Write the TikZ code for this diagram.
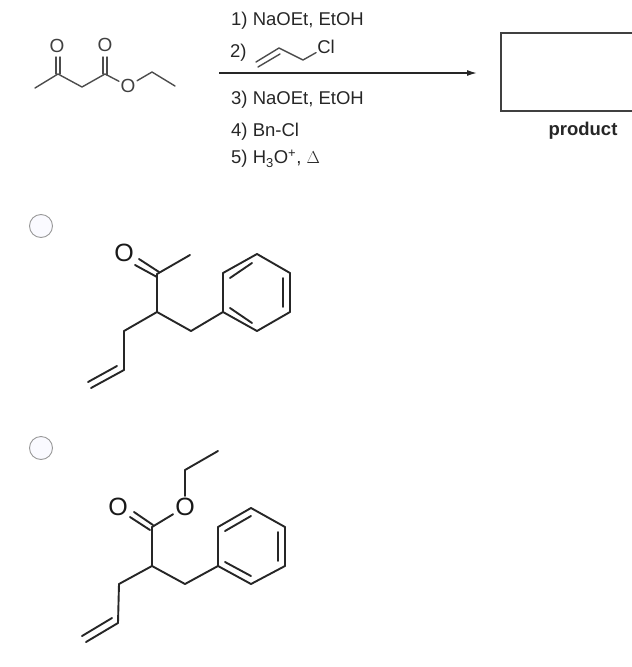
\documentclass[tikz,border=0pt]{standalone}
\usepackage{fontspec}
\usetikzlibrary{arrows.meta}
\setmainfont{Liberation Sans}
\tikzset{
  bond/.style={line width=1.9pt,line cap=round,line join=round,color=black!85},
  thinbond/.style={line width=1.4pt,line cap=round,line join=round,color=black!70},
  atom/.style={inner sep=2pt,font=\fontsize{25}{25}\selectfont,color=black!90},
  smallatom/.style={inner sep=1.5pt,font=\fontsize{19}{19}\selectfont,color=black!75},
  reagent/.style={anchor=west,inner sep=0pt,font=\fontsize{18.5}{20}\selectfont,color=black!85},
  radio/.style={circle,draw=black!40,fill=blue!2,line width=0.9pt,minimum size=23pt,inner sep=0pt},
}
\begin{document}
\begin{tikzpicture}[x=1pt,y=-1pt]
\useasboundingbox (0,0) rectangle (632,667);
% starting material
\coordinate (s0) at (35,88);
\coordinate (s1) at (58,74);
\node[smallatom] (s2) at (57,46) {O};
\coordinate (s3) at (82,87);
\coordinate (s4) at (105,74);
\node[smallatom] (s5) at (105,45) {O};
\node[smallatom] (s6) at (128,86) {O};
\coordinate (s7) at (152,72);
\coordinate (s8) at (175,86);
\coordinate (s9) at (56,57);
\coordinate (s10) at (56,74);
\coordinate (s11) at (60,57);
\coordinate (s12) at (60,74);
\coordinate (s13) at (103,57);
\coordinate (s14) at (103,74);
\coordinate (s15) at (107,57);
\coordinate (s16) at (107,75);
\draw[thinbond] (s0) -- (s1) -- (s3) -- (s4) -- (s6);
\draw[thinbond] (s6) -- (s7) -- (s8);
\draw[thinbond] (s9) -- (s10);
\draw[thinbond] (s11) -- (s12);
\draw[thinbond] (s13) -- (s14);
\draw[thinbond] (s15) -- (s16);
% reagents
\node[reagent] (r1) at (231,21) {1) NaOEt, EtOH};
\node[reagent] (r2) at (230,53) {2)};
\coordinate (c0) at (256,62);
\coordinate (c1) at (279,48);
\coordinate (c2) at (303,60);
\node[inner sep=1pt,font=\fontsize{18.5}{20}\selectfont,color=black!85] (c3) at (326,47) {Cl};
\coordinate (c4) at (258,67);
\coordinate (c5) at (280,54);
\draw[thinbond] (c0) -- (c1) -- (c2) -- (c3);
\draw[thinbond] (c4) -- (c5);
\node[reagent] (r3) at (231,100) {3) NaOEt, EtOH};
\node[reagent] (r4) at (231,132) {4) Bn-Cl};
\node[reagent] (r5) at (231,159) {5) H\textsubscript{3}O\textsuperscript{+}, $\Delta$};
% arrow
\coordinate (p0) at (219,73);
\coordinate (p1) at (477,73);
\draw[-{Latex[length=10pt,width=6pt]},line width=1.4pt,color=black!85] (p0) -- (p1);
% product box
\coordinate (q0) at (632,33);
\coordinate (q1) at (501,33);
\coordinate (q2) at (501,111);
\coordinate (q3) at (632,111);
\draw[line width=1.4pt,color=black!75] (q0) -- (q1) -- (q2) -- (q3);
\node[font=\fontsize{18.5}{20}\selectfont\bfseries,color=black!85] (q4) at (583,131) {product};
% first choice
\node[radio] (o1) at (41,226) {};
\node[atom] (a0) at (124,253) {O};
\coordinate (a1) at (157,274);
\coordinate (a2) at (190,255);
\coordinate (a3) at (157,312);
\coordinate (a4) at (191,331);
\coordinate (a5) at (223,312);
\coordinate (a6) at (223,273);
\coordinate (a7) at (257,254);
\coordinate (a8) at (290,273);
\coordinate (a9) at (290,312);
\coordinate (a10) at (257,331);
\coordinate (a11) at (124,331);
\coordinate (a12) at (124,370);
\coordinate (a13) at (91,388);
\coordinate (a14) at (117,366);
\coordinate (a15) at (88,382);
\coordinate (a16) at (230,278);
\coordinate (a17) at (252,263);
\coordinate (a18) at (283,278);
\coordinate (a19) at (283,307);
\coordinate (a20) at (230,308);
\coordinate (a21) at (252,323);
\coordinate (a22) at (135,265);
\coordinate (a23) at (157,277);
\coordinate (a24) at (139,259);
\coordinate (a25) at (159,272);
\draw[bond] (a2) -- (a1) -- (a3) -- (a4) -- (a5);
\draw[bond] (a22) -- (a23);
\draw[bond] (a24) -- (a25);
\draw[bond] (a3) -- (a11) -- (a12) -- (a13);
\draw[bond] (a14) -- (a15);
\draw[bond] (a5) -- (a6) -- (a7) -- (a8) -- (a9) -- (a10) -- (a5);
\draw[bond] (a16) -- (a17);
\draw[bond] (a18) -- (a19);
\draw[bond] (a20) -- (a21);
% second choice
\node[radio] (o2) at (41,448) {};
\coordinate (b0) at (218,451);
\coordinate (b1) at (185,470);
\node[atom] (b2) at (185,507) {O};
\coordinate (b3) at (152,527);
\node[atom] (b4) at (118,507) {O};
\coordinate (b5) at (152,566);
\coordinate (b6) at (185,584);
\coordinate (b7) at (218,566);
\coordinate (b8) at (218,527);
\coordinate (b9) at (251,508);
\coordinate (b10) at (285,527);
\coordinate (b11) at (285,566);
\coordinate (b12) at (251,584);
\coordinate (b13) at (119,584);
\coordinate (b14) at (118,623);
\coordinate (b15) at (86,642);
\coordinate (b16) at (112,618);
\coordinate (b17) at (82,636);
\coordinate (b18) at (225,531);
\coordinate (b19) at (251,516);
\coordinate (b20) at (278,532);
\coordinate (b21) at (278,561);
\coordinate (b22) at (225,562);
\coordinate (b23) at (251,576);
\coordinate (b24) at (130,517);
\coordinate (b25) at (150,530);
\coordinate (b26) at (134,512);
\coordinate (b27) at (153,525);
\draw[bond] (b0) -- (b1) -- (b2);
\draw[bond] (b2) -- (b3) -- (b5) -- (b6) -- (b7);
\draw[bond] (b24) -- (b25);
\draw[bond] (b26) -- (b27);
\draw[bond] (b5) -- (b13) -- (b14) -- (b15);
\draw[bond] (b16) -- (b17);
\draw[bond] (b7) -- (b8) -- (b9) -- (b10) -- (b11) -- (b12) -- (b7);
\draw[bond] (b18) -- (b19);
\draw[bond] (b20) -- (b21);
\draw[bond] (b22) -- (b23);
\end{tikzpicture}
\end{document}
